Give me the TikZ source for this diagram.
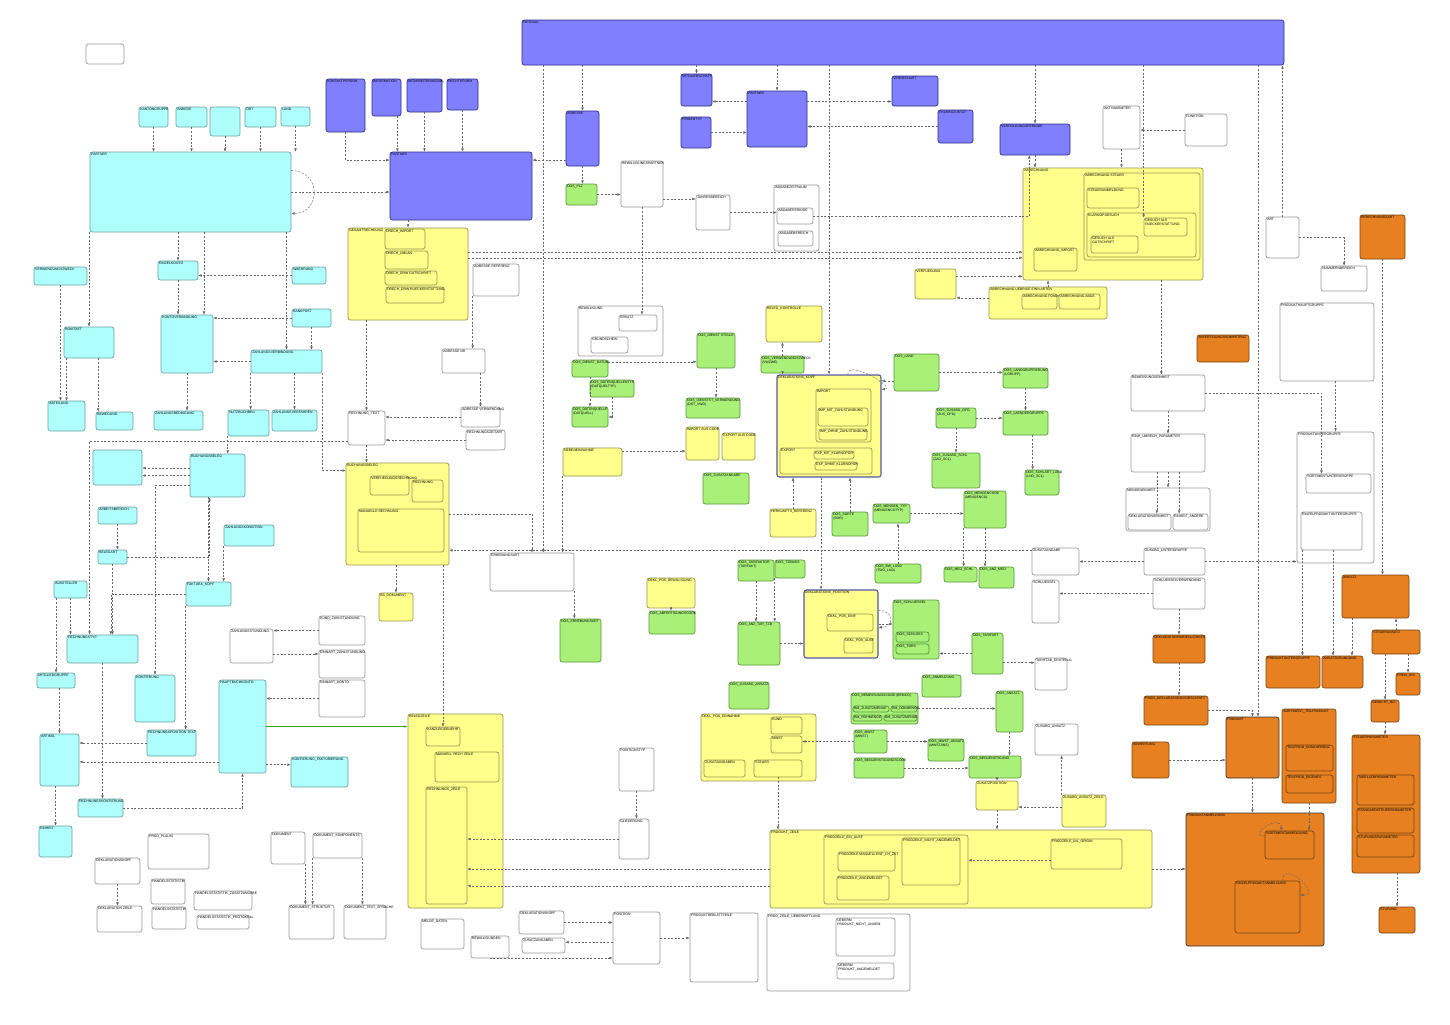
\documentclass[tikz,border=0pt]{standalone}
\usepackage{fontspec}
\setmainfont{Liberation Sans}
\usetikzlibrary{arrows.meta,fit}
\definecolor{blueF}{RGB}{128,128,255}\definecolor{blueD}{RGB}{45,45,140}
\definecolor{cyanF}{RGB}{175,255,255}\definecolor{cyanD}{RGB}{110,160,160}
\definecolor{yellowF}{RGB}{255,255,140}\definecolor{yellowD}{RGB}{150,150,80}
\definecolor{greenF}{RGB}{168,240,120}\definecolor{greenD}{RGB}{90,150,60}
\definecolor{orangeF}{RGB}{230,128,32}\definecolor{orangeD}{RGB}{120,70,20}
\definecolor{lineG}{RGB}{60,160,30}
\begin{document}
\begin{tikzpicture}[x=0.5pt,y=-0.5pt,
  ent/.style={rounded corners=1.2pt,line width=0.35pt,inner sep=0pt},
  bl/.style={ent,fill=blueF,draw=blueD},
  cy/.style={ent,fill=cyanF,draw=cyanD},
  yl/.style={ent,fill=yellowF,draw=yellowD},
  ylb/.style={ent,fill=yellowF,draw=blueD!80,line width=0.55pt},
  gr/.style={ent,fill=greenF,draw=greenD},
  og/.style={ent,fill=orangeF,draw=orangeD},
  wh/.style={ent,fill=white,draw=black!40},
  ttl/.style={anchor=north west,inner sep=0.6pt,align=left,font=\fontsize{1.7}{1.9}\selectfont},
  rel/.style={draw=black!60,line width=0.22pt,dash pattern=on 1pt off 0.8pt,-{Latex[length=1.6pt,width=1.3pt]}},
  relg/.style={draw=lineG,line width=0.35pt,-{Latex[length=1.6pt,width=1.3pt]}}]
\useasboundingbox (0,0) rectangle (1450,1024);
\fill[white] (0,0) rectangle (1450,1024);

\node[wh,fit={(86,44)(124,64)}](legend){};
\node[bl,fit={(522,20)(1284,65)},label={[ttl]north west:RIPOSAU}](riposau){};
\node[bl,fit={(326,79)(365,132)},label={[ttl]north west:KONTAKTPERSON}](kontaktperson){};
\node[bl,fit={(372,79)(401,116)},label={[ttl]north west:INFORMATION}](information){};
\node[bl,fit={(407,79)(442,112)},label={[ttl]north west:MITARBEITERANZAHL}](mitarbeiter){};
\node[bl,fit={(447,79)(478,110)},label={[ttl]north west:RECHTSFORM}](rechtsform){};
\node[bl,fit={(390,152)(532,220)},label={[ttl]north west:PARTNER}](partnerB){};
\node[bl,fit={(566,111)(599,166)},label={[ttl]north west:ADRESSE}](adresse){};
\node[bl,fit={(681,74)(712,106)},label={[ttl]north west:MITGLIEDSCHAFT}](mitglied){};
\node[bl,fit={(681,117)(711,148)},label={[ttl]north west:FIRMENTYP}](firmentyp){};
\node[bl,fit={(747,91)(807,147)},label={[ttl]north west:PARTNER}](partnerS){};
\node[bl,fit={(892,76)(938,106)},label={[ttl]north west:VERRECHART}](verrechart){};
\node[bl,fit={(938,110)(973,143)},label={[ttl]north west:FRANKOZUSTAT}](frachtzustand){};
\node[bl,fit={(1000,124)(1070,155)},label={[ttl]north west:VERFOLGUNGSPERIODE}](verfolgung){};

\node[cy,fit={(139,107)(168,127)},label={[ttl]north west:KANTONGRUPPE}](kantongruppe){};
\node[cy,fit={(176,107)(207,127)},label={[ttl]north west:ANREDE}](anrede){};
\node[cy,fit={(210,107)(240,136)}](plz){};
\node[cy,fit={(245,107)(276,127)},label={[ttl]north west:ORT}](ort){};
\node[cy,fit={(281,107)(310,126)},label={[ttl]north west:LAND}](land){};
\node[cy,fit={(90,152)(291,232)},label={[ttl]north west:PARTNER}](partnerC){};
\node[cy,fit={(34,267)(87,285)},label={[ttl]north west:VERWENDUNGSZWECK}](verwendungszweck){};
\node[cy,fit={(158,261)(198,280)},label={[ttl]north west:EINZELKONTO}](einzelkonto){};
\node[cy,fit={(292,267)(326,284)},label={[ttl]north west:WAEHRUNG}](waehrung){};
\node[cy,fit={(292,309)(331,327)},label={[ttl]north west:BANKPOST}](bankpost){};
\node[cy,fit={(161,315)(213,373)},label={[ttl]north west:KONTOVERBINDUNG}](kontoverb){};
\node[cy,fit={(64,327)(114,358)},label={[ttl]north west:BONITAET}](bonitaet){};
\node[cy,fit={(251,350)(322,373)},label={[ttl]north west:ZAHLUNGSVERBINDUNG}](zahlverb){};
\node[cy,fit={(48,401)(85,431)},label={[ttl]north west:ABTEILUNG}](abteilung){};
\node[cy,fit={(96,412)(133,430)},label={[ttl]north west:BEWEGUNG}](bewegung){};
\node[cy,fit={(154,411)(203,430)},label={[ttl]north west:ZAHLUNGSBEDINGUNG}](zahlbed){};
\node[cy,fit={(228,410)(269,436)},label={[ttl]north west:NUTZBUCHBEG}](nutzbuch){};
\node[cy,fit={(272,410)(317,431)},label={[ttl]north west:ZAHLUNGSVERFAHREN}](zahlverf){};
\node[cy,fit={(93,450)(142,485)}](cyanblank){};
\node[cy,fit={(190,454)(245,497)},label={[ttl]north west:BUCHUNGSBELEG}](buchbeleg){};
\node[cy,fit={(98,507)(137,524)},label={[ttl]north west:ARBEITSBEREICH}](arbeitsber){};
\node[cy,fit={(98,550)(127,564)},label={[ttl]north west:BELEGART}](belegart){};
\node[cy,fit={(224,525)(274,546)},label={[ttl]north west:ZAHLUNGSKONDITION}](zahlkond){};
\node[cy,fit={(54,581)(87,598)},label={[ttl]north west:AUSSTELLER}](aussteller){};
\node[cy,fit={(186,582)(231,606)},label={[ttl]north west:FAKTURA\_KOPF}](fakturakopf){};
\node[cy,fit={(67,635)(138,663)},label={[ttl]north west:RECHNUNGSTYP}](rechnungstyp){};
\node[cy,fit={(37,673)(75,688)},label={[ttl]north west:MITGLIEDGRUPPE}](mitgliedgr){};
\node[cy,fit={(135,675)(175,722)},label={[ttl]north west:KONTIERUNG}](kontierung){};
\node[cy,fit={(219,680)(266,773)},label={[ttl]north west:HAUPTBUCHKONTO}](hauptbuch){};
\node[cy,fit={(147,730)(196,756)},label={[ttl]north west:RECHNUNGSPOSITION TEXT}](rechpostext){};
\node[cy,fit={(40,734)(79,786)},label={[ttl]north west:ARTIKEL}](artikel){};
\node[cy,fit={(291,757)(348,787)},label={[ttl]north west:KONTIERUNG\_FAKTURIERUNG}](kontfakt){};
\node[cy,fit={(78,799)(123,817)},label={[ttl]north west:RECHNUNGSKONTIERUNG}](rechkont){};
\node[cy,fit={(39,826)(72,857)},label={[ttl]north west:EINHEIT}](einheit){};

\node[wh,fit={(230,629)(273,663)},label={[ttl]north west:ZAHLUNGSSTUNDUNG}](zahlstund){};
\node[wh,fit={(319,616)(365,645)},label={[ttl]north west:KUND\_ZAHLSTUNDUNG}](kundzahl){};
\node[wh,fit={(319,650)(365,678)},label={[ttl]north west:EINNART\_ZAHLSTUNDUNG}](einnzahl){};
\node[wh,fit={(319,680)(365,717)},label={[ttl]north west:EINNART\_KONTO}](einnkonto){};
\node[wh,fit={(348,411)(385,445)},label={[ttl]north west:RECHNUNG\_TEXT}](rechtext){};
\node[wh,fit={(442,349)(485,373)},label={[ttl]north west:ADRESSE NR}](adrnr){};
\node[wh,fit={(461,407)(500,427)},label={[ttl]north west:ADRESSE VERWENDUNG}](adrverw){};
\node[wh,fit={(466,430)(505,450)},label={[ttl]north west:RECHNUNGSZEITART}](rechzeit){};
\node[wh,fit={(473,264)(519,296)},label={[ttl]north west:ADRESSE REFERENZ}](adrref){};

\node[yl,fit={(348,228)(468,320)},label={[ttl]north west:GESAMTRECHNUNG}](gesamtrech){};
\node[yl,fit={(385,229)(425,249)},label={[ttl]north west:DRECH\_IMPORT}](drechimport){};
\node[yl,fit={(385,251)(428,269)},label={[ttl]north west:DRECH\_UMLAN}](drechumlan){};
\node[yl,fit={(385,271)(437,285)},label={[ttl]north west:DRECH\_DRW GUTSCHRIFT}](drechgut){};
\node[yl,fit={(386,287)(444,303)},label={[ttl]north west:DRECH\_DRW RUECKERSTATTUNG}](drechrueck){};
\node[yl,fit={(346,463)(449,565)},label={[ttl]north west:BUCHUNGSBELEG}](buchbelegY){};
\node[yl,fit={(370,476)(409,495)},label={[ttl]north west:VERFUEGUNGSRECHNUNG}](verfrech){};
\node[yl,fit={(412,480)(443,502)},label={[ttl]north west:RECHNUNG}](rechnung){};
\node[yl,fit={(358,509)(444,552)},label={[ttl]north west:MANUELLE RECHNUNG}](manrech){};
\node[yl,fit={(379,593)(413,621)},label={[ttl]north west:BS\_DOKUMENT}](bsdok){};
\node[yl,fit={(408,714)(503,908)},label={[ttl]north west:BELEGZEILE}](belegzeile){};
\node[yl,fit={(426,727)(460,746)},label={[ttl]north west:KANZLEIGEBUEHR}](kanzlei){};
\node[yl,fit={(435,752)(499,782)},label={[ttl]north west:MANUELL RECH ZEILE}](manrechz){};
\node[yl,fit={(426,787)(467,904)},label={[ttl]north west:RECHNUNGS\_ZEILE}](rechzeile){};
\node[yl,fit={(563,448)(622,476)},label={[ttl]north west:NEBENEINNAHME}](nebeneinn){};
\node[yl,fit={(686,427)(719,460)},label={[ttl]north west:IMPORT AUS CODE}](importaus){};
\node[yl,fit={(722,433)(755,460)},label={[ttl]north west:EXPORT AUS CODE}](exportaus){};
\node[yl,fit={(766,306)(822,342)},label={[ttl]north west:BELEG\_KONTROLLE}](belegkontr){};
\node[ylb,fit={(777,375)(881,477)},label={[ttl]north west:DEKLARATIONS\_KOPF}](deklkopf){};
\node[yl,fit={(816,389)(871,442)},label={[ttl]north west:IMPORT}](import){};
\node[yl,fit={(818,408)(868,426)},label={[ttl]north west:IMP\_MIT\_ZAHLSTUNDUNG}](impmit){};
\node[yl,fit={(819,429)(867,440)},label={[ttl]north west:IMP\_OHNE\_ZAHLSTUNDUNG}](impohne){};
\node[yl,fit={(780,448)(872,474)},label={[ttl]north west:EXPORT}](export){};
\node[yl,fit={(814,451)(854,459)},label={[ttl]north west:EXP\_MIT\_KLARNOPOR}](expmit){};
\node[yl,fit={(815,462)(857,470)},label={[ttl]north west:EXP\_OHNE\_KLARNOPOR}](expohne){};
\node[yl,fit={(770,509)(816,537)},label={[ttl]north west:HERKUNFTS\_REFERENZ}](herkunft){};
\node[ylb,fit={(804,590)(878,658)},label={[ttl]north west:DEKLARATIONS\_POSITION}](deklpos){};
\node[yl,fit={(827,614)(873,631)},label={[ttl]north west:DEKL\_POS\_EINF}](deklposeinf){};
\node[yl,fit={(844,638)(873,653)},label={[ttl]north west:DEKL\_POS\_AUSF}](deklposausf){};
\node[yl,fit={(647,578)(695,608)},label={[ttl]north west:DEKL\_POS\_BEWILLIGUNG}](deklposbew){};
\node[yl,fit={(701,714)(816,781)},label={[ttl]north west:DEKL\_POS\_EINNAHME}](deklposeinn){};
\node[yl,fit={(771,717)(802,734)},label={[ttl]north west:KUND}](kund){};
\node[yl,fit={(771,736)(802,753)},label={[ttl]north west:MWST}](mwst){};
\node[yl,fit={(704,760)(745,777)},label={[ttl]north west:ZUSATZANGABEN}](zusatzang){};
\node[yl,fit={(754,760)(802,777)},label={[ttl]north west:STEUER}](steuer){};
\node[yl,fit={(976,781)(1018,810)},label={[ttl]north west:ZUSATZPOSITION}](zusatzpos){};
\node[yl,fit={(1062,795)(1106,827)},label={[ttl]north west:ZUSABG\_ANSATZ\_ZEILE}](zusabgzeile){};
\node[yl,fit={(770,830)(1152,908)},label={[ttl]north west:PRODUKT\_ZEILE}](produktzeile){};
\node[yl,fit={(824,835)(968,904)},label={[ttl]north west:PRODZEILE\_EIN\_AUSF}](prodeinausf){};
\node[yl,fit={(902,838)(960,885)},label={[ttl]north west:PRODZEILE\_NICHT\_ANGEMELDET}](prodnicht){};
\node[yl,fit={(838,852)(895,871)},label={[ttl]north west:PRODZEILE MANUELL ENF\_CH\_ZST}](prodmanuell){};
\node[yl,fit={(837,876)(889,900)},label={[ttl]north west:PRODZEILE\_ANGEMELDET}](prodangem){};
\node[yl,fit={(1051,839)(1122,869)},label={[ttl]north west:PRODZEILE\_INL\_ORIGIN}](prodinl){};
\node[yl,fit={(1023,168)(1203,280)},label={[ttl]north west:ABRECHNUNG}](abrechnung){};
\node[yl,fit={(1084,173)(1200,260)},label={[ttl]north west:ABRECHNUNG STEUER}](abrsteuer){};
\node[yl,fit={(1087,188)(1139,208)},label={[ttl]north west:STEUERANMELDUNG}](steueranm){};
\node[yl,fit={(1087,213)(1196,257)},label={[ttl]north west:KLARNOPGESUCH}](klarnop){};
\node[yl,fit={(1144,218)(1187,236)},label={[ttl]north west:{GESUCH ALS\\RUECKERSTATTUNG}}](gesruck){};
\node[yl,fit={(1091,236)(1138,253)},label={[ttl]north west:{GESUCH ALS\\GUTSCHRIFT}}](gesgut){};
\node[yl,fit={(1034,248)(1077,271)},label={[ttl]north west:ABRECHNUNG\_IMPORT}](abrimport){};
\node[yl,fit={(915,269)(956,299)},label={[ttl]north west:VERFUEGUNG}](verfuegung){};
\node[yl,fit={(989,287)(1107,319)},label={[ttl]north west:ABRECHNUNG UEBRIGE EINN.ARTEN}](abruebrige){};
\node[yl,fit={(1022,294)(1057,309)},label={[ttl]north west:ABRECHNUNG FONDS}](abrfonds){};
\node[yl,fit={(1059,294)(1100,309)},label={[ttl]north west:ABRECHNUNG ABGE}](abrabge){};

\node[gr,fit={(566,184)(597,205)},label={[ttl]north west:DOS\_PLZ}](dosplz){};
\node[gr,fit={(697,333)(735,368)},label={[ttl]north west:DOS\_DIENST STELLE}](dosdienststelle){};
\node[gr,fit={(572,360)(608,377)},label={[ttl]north west:DOS\_DIENST\_DATUM}](dosdienstdatum){};
\node[gr,fit={(590,380)(634,397)},label={[ttl]north west:{DOS\_DATENQUELLENTYP\\(DATQUELTYP)}}](dosdqtyp){};
\node[gr,fit={(572,407)(608,427)},label={[ttl]north west:{DOS\_DATENQUELLE\\(DATQUELL)}}](dosdq){};
\node[gr,fit={(686,398)(740,418)},label={[ttl]north west:{DOS\_DIENSTST\_VERWENDUNG\\(DST\_VWD)}}](dosdstverw){};
\node[gr,fit={(761,356)(804,373)},label={[ttl]north west:{DOS\_VERWENDUNGSZWECK\\(VWZWE)}}](dosverwzw){};
\node[gr,fit={(894,354)(939,391)},label={[ttl]north west:DOS\_LAND}](dosland){};
\node[gr,fit={(1003,368)(1048,388)},label={[ttl]north west:{DOS\_LANDGRUPPIERUNG\\(LGRUPP)}}](doslgrupp){};
\node[gr,fit={(936,408)(976,428)},label={[ttl]north west:{DOS\_ZUSABG\_OFG\\(ZUS\_OFG)}}](doszusofg){};
\node[gr,fit={(1003,411)(1048,435)},label={[ttl]north west:DOS\_LAENDERGRUPPE}](doslaendergr){};
\node[gr,fit={(932,453)(980,488)},label={[ttl]north west:{DOS\_ZUSABG\_SCHL\\(ZAD\_SCL)}}](doszusschl){};
\node[gr,fit={(1025,470)(1059,495)},label={[ttl]north west:{DOS\_SCHLART\_LAND\\(LND\_SCL)}}](dosschlland){};
\node[gr,fit={(964,491)(1006,528)},label={[ttl]north west:{DOS\_MENGENCODE\\(MENGENCO)}}](dosmengencode){};
\node[gr,fit={(873,504)(910,523)},label={[ttl]north west:{DOS\_MENGEN\_TYP\\(MENGENCOTYP)}}](dosmengentyp){};
\node[gr,fit={(832,512)(868,536)},label={[ttl]north west:{DOS\_SORTE\\(SOR)}}](dossorte){};
\node[gr,fit={(703,473)(749,504)},label={[ttl]north west:DOS\_ZUSATZANGABE}](doszusatzang){};
\node[gr,fit={(738,560)(774,581)},label={[ttl]north west:{DOS\_TARIFAKTOR\\(TARFAKT)}}](dostarif){};
\node[gr,fit={(775,560)(805,578)},label={[ttl]north west:DOS\_TZBASIS}](dostzbasis){};
\node[gr,fit={(875,564)(921,583)},label={[ttl]north west:{DOS\_BW\_LAND\\(TWO\_LND)}}](dosbwland){};
\node[gr,fit={(944,567)(977,582)},label={[ttl]north west:DOS\_MEG\_SCHL}](dosmegschl){};
\node[gr,fit={(979,567)(1014,588)},label={[ttl]north west:DOS\_ANZ\_MEO}](dosanzmeo){};
\node[gr,fit={(738,622)(780,665)},label={[ttl]north west:DOS\_ANZ\_TAR\_TZB}](dosanztar){};
\node[gr,fit={(893,600)(939,659)},label={[ttl]north west:DOS\_SCHLUESSEL}](dosschl){};
\node[gr,fit={(896,632)(929,642)},label={[ttl]north west:DOS\_SCHLOSS}](dosschloss){};
\node[gr,fit={(896,644)(929,654)},label={[ttl]north west:DOS\_TORS}](dostors){};
\node[gr,fit={(972,633)(1003,674)},label={[ttl]north west:DOS\_TARIFART}](dostarifart){};
\node[gr,fit={(922,675)(961,697)},label={[ttl]north west:DOS\_ANMELDUNG}](dosanmeld){};
\node[gr,fit={(729,682)(769,709)},label={[ttl]north west:DOS\_ZUSABG\_ANSATZ}](doszusabgans){};
\node[gr,fit={(851,693)(918,724)},label={[ttl]north west:DOS\_BEMESSUNGSCODE (BEMCO)}](dosbemco){};
\node[gr,fit={(853,706)(889,712)},label={[ttl]north west:BM\_ZUSATZMENGE}](bmzusatz){};
\node[gr,fit={(891,706)(917,712)},label={[ttl]north west:BM\_DOKMENGE}](bmdok){};
\node[gr,fit={(853,715)(882,721)},label={[ttl]north west:BM\_ROHMENGE}](bmroh){};
\node[gr,fit={(884,715)(917,721)},label={[ttl]north west:BM\_ZUSATZMENGE}](bmzustwo){};
\node[gr,fit={(996,691)(1023,732)},label={[ttl]north west:DOS\_ANSATZ}](dosansatz){};
\node[gr,fit={(854,730)(887,753)},label={[ttl]north west:{DOS\_MWST\\(MWST)}}](dosmwst){};
\node[gr,fit={(928,739)(964,761)},label={[ttl]north west:{DOS\_MWST\_ANSATZ\\(MWSTANS)}}](dosmwstans){};
\node[gr,fit={(854,758)(904,778)},label={[ttl]north west:DOS\_BEGUENSTIGUNGSCODE}](dosbegcode){};
\node[gr,fit={(969,756)(1021,778)},label={[ttl]north west:DOS\_BEGUENSTIGUNG}](dosbeg){};
\node[gr,fit={(560,619)(601,662)},label={[ttl]north west:DOS\_ERHEBUNGSART}](doserhebart){};
\node[gr,fit={(649,611)(695,634)},label={[ttl]north west:DOS\_ABFERTIGUNGSCODE}](dosabfcode){};

\node[wh,fit={(621,161)(663,207)},label={[ttl]north west:BEWILLIGUNGSPARTNER}](bewpartner){};
\node[wh,fit={(696,195)(730,230)},label={[ttl]north west:JAHRESBEREICH}](jahresber){};
\node[wh,fit={(774,185)(819,251)},label={[ttl]north west:ABGABEZEITRAUM}](abgzeitraum){};
\node[wh,fit={(777,208)(813,224)},label={[ttl]north west:ABGABEPERIODE}](abgperiode){};
\node[wh,fit={(778,231)(813,246)},label={[ttl]north west:ABGABEBEREICH}](abgbereich){};
\node[wh,fit={(578,306)(663,356)},label={[ttl]north west:BEWILLIGUNG}](bewilligung){};
\node[wh,fit={(619,315)(657,331)},label={[ttl]north west:ERSATZ}](ersatz){};
\node[wh,fit={(591,337)(628,353)},label={[ttl]north west:GRUNDSCHEIN}](grundschein){};
\node[wh,fit={(490,553)(574,591)},label={[ttl]north west:ERHEBUNGSART}](erhebungsart){};
\node[wh,fit={(619,748)(654,791)},label={[ttl]north west:POSITIONSTYP}](positionstyp){};
\node[wh,fit={(619,819)(649,859)},label={[ttl]north west:GLIEDERUNG}](gliederung){};
\node[wh,fit={(1103,106)(1140,149)},label={[ttl]north west:AKTIVANBIETER}](aktivanb){};
\node[wh,fit={(1185,114)(1227,146)},label={[ttl]north west:FUNKTION}](funktion){};
\node[wh,fit={(1266,217)(1299,258)},label={[ttl]north west:ART}](art){};
\node[wh,fit={(1321,266)(1367,291)},label={[ttl]north west:NUMMERNBEREICH}](nummernber){};
\node[wh,fit={(1280,303)(1374,381)},label={[ttl]north west:PRODUKTHAUPTGRUPPE}](prodhaupt){};
\node[wh,fit={(1131,375)(1205,411)},label={[ttl]north west:BEMESSUNGSEINHEIT}](bemeinheit){};
\node[wh,fit={(1131,434)(1205,472)},label={[ttl]north west:EINH\_UMRECH\_PARAMETER}](einhumrech){};
\node[wh,fit={(1126,488)(1210,531)},label={[ttl]north west:MENGENEINHEIT}](mengeneinheit){};
\node[wh,fit={(1128,514)(1171,530)},label={[ttl]north west:DEKLARATIONSEINHEIT}](deklein){};
\node[wh,fit={(1173,514)(1208,530)},label={[ttl]north west:EINHEIT\_ANDERE}](einhandere){};
\node[wh,fit={(1297,432)(1374,563)},label={[ttl]north west:PRODUKTUNTERGRUPPE}](produntergr){};
\node[wh,fit={(1306,474)(1371,493)},label={[ttl]north west:SORTIMENTUNTERGRUPPE}](sortunter){};
\node[wh,fit={(1301,512)(1362,550)},label={[ttl]north west:EINZELPRODUKTUNTERGRUPPE}](einzelunter){};
\node[wh,fit={(1144,548)(1205,575)},label={[ttl]north west:ZUSABG\_UNTERGRUPPE}](zusabgunter){};
\node[wh,fit={(1153,578)(1205,609)},label={[ttl]north west:SCHLUESSELVERWENDUNG}](schlverw){};
\node[wh,fit={(1032,548)(1079,575)},label={[ttl]north west:ZUSATZANGABE}](zusatzangabe){};
\node[wh,fit={(1032,580)(1059,623)},label={[ttl]north west:SCHLUESSEL}](schluessel){};
\node[wh,fit={(1035,658)(1067,690)},label={[ttl]north west:TARIFTAB\_ERSTELLG}](tariftab){};
\node[wh,fit={(1035,724)(1078,755)},label={[ttl]north west:ZUSABG\_ANSATZ}](zusabgansatz){};

\node[og,fit={(1197,335)(1249,362)},label={[ttl]north west:ABFERTIGUNGSKOMPETENZ}](abfkomp){};
\node[og,fit={(1360,215)(1405,259)},label={[ttl]north west:BERECHNUNGSART}](berechart){};
\node[og,fit={(1153,635)(1205,663)},label={[ttl]north west:DEKLARATIONSMOEGLICHKEIT}](deklmoegl){};
\node[og,fit={(1342,575)(1409,618)},label={[ttl]north west:ANSATZ}](ansatz){};
\node[og,fit={(1372,630)(1420,654)},label={[ttl]north west:STEUERANSATZ}](steueransatz){};
\node[og,fit={(1266,656)(1320,688)},label={[ttl]north west:PRODUKTUNTERGRUPPE}](produktgr){};
\node[og,fit={(1322,656)(1363,688)},label={[ttl]north west:ANSATZGRUNDUNG}](ansatzgr){};
\node[og,fit={(1396,673)(1420,695)},label={[ttl]north west:PREIS\_BIS}](preisbis){};
\node[og,fit={(1371,700)(1399,722)},label={[ttl]north west:GEWICHT\_BIS}](gewichtbis){};
\node[og,fit={(1144,696)(1208,725)},label={[ttl]north west:PROD\_DEKLARATIONSVORSCHRIFT}](proddeklvor){};
\node[og,fit={(1226,717)(1279,778)},draw=black!80,label={[ttl]north west:PRODUKT}](produkt){};
\node[og,fit={(1282,709)(1336,803)},label={[ttl]north west:SORTIMENT\_TEILPRODUKT}](sortteil){};
\node[og,fit={(1286,745)(1333,771)},label={[ttl]north west:TEILPROD\_KONKURRENZ}](teilkonk){};
\node[og,fit={(1286,775)(1333,793)},label={[ttl]north west:TEILPROD\_EIGENES}](teileig){};
\node[og,fit={(1132,742)(1169,778)},label={[ttl]north west:BEWERTUNG}](bewertung){};
\node[og,fit={(1352,735)(1420,873)},label={[ttl]north west:STEUERPARAMETER}](steuerparam){};
\node[og,fit={(1357,775)(1414,805)},label={[ttl]north west:TABELLENPARAMETER}](tabparam){};
\node[og,fit={(1357,808)(1414,833)},label={[ttl]north west:STANDARDSTEUERPARAMETER}](stdparam){};
\node[og,fit={(1357,835)(1414,857)},label={[ttl]north west:STUFUNGSPARAMETER}](stufparam){};
\node[og,fit={(1186,813)(1324,946)},draw=black!80,label={[ttl]north west:PRODUKTANMELDUNG}](prodanm){};
\node[og,fit={(1265,831)(1314,859)},label={[ttl]north west:SORTIMENTANMELDUNG}](sortanm){};
\node[og,fit={(1235,881)(1300,933)},label={[ttl]north west:EINZELPRODUKTANMELDUNG}](einzelanm){};
\node[og,fit={(1379,907)(1415,933)},label={[ttl]north west:STUFUNG}](stufung){};

\node[wh,fit={(148,834)(209,869)},label={[ttl]north west:PROD\_PLAUSI}](prodplausi){};
\node[wh,fit={(95,858)(140,884)},label={[ttl]north west:DEKLARATIONSKOPF}](deklkopftwo){};
\node[wh,fit={(97,906)(142,932)},label={[ttl]north west:DEKLARATION ZEILE}](deklzeile){};
\node[wh,fit={(151,879)(185,904)},label={[ttl]north west:HANDELSSTATISTIK}](hstat){};
\node[wh,fit={(152,907)(186,929)},label={[ttl]north west:HANDELSSTATISTIK}](hstattwo){};
\node[wh,fit={(194,891)(252,910)},label={[ttl]north west:HANDELSSTATISTIK\_ZUSATZANGABE}](hstatzus){};
\node[wh,fit={(197,915)(249,929)},label={[ttl]north west:HANDELSSTATISTIK\_PROTOKOLL}](hstatprot){};
\node[wh,fit={(271,832)(305,864)},label={[ttl]north west:DOKUMENT}](dokument){};
\node[wh,fit={(313,833)(362,858)},label={[ttl]north west:DOKUMENT\_KOMPONENTE}](dokkomp){};
\node[wh,fit={(289,905)(334,939)},label={[ttl]north west:DOKUMENT\_STRUKTUR}](dokstruk){};
\node[wh,fit={(344,905)(386,939)},label={[ttl]north west:DOKUMENT\_TEXT\_SPRACHE}](doktext){};
\node[wh,fit={(421,919)(464,949)},label={[ttl]north west:MELDE\_DATEN}](meldedaten){};
\node[wh,fit={(471,936)(509,958)},label={[ttl]north west:BEWILLIGUNGEN}](bewilligungen){};
\node[wh,fit={(519,911)(564,934)},label={[ttl]north west:DEKLARATIONSKOPF}](deklkopfthree){};
\node[wh,fit={(522,938)(565,953)},label={[ttl]north west:ZUSATZANGABEN}](zusatzangaben){};
\node[wh,fit={(613,912)(660,964)},label={[ttl]north west:POSITION}](position){};
\node[wh,fit={(690,913)(758,982)},label={[ttl]north west:PRODUKTBEBLATTZEILE}](prodblatt){};
\node[wh,fit={(767,914)(910,991)},label={[ttl]north west:PROD\_ZEILE\_UEBERMITTLUNG}](produeberm){};
\node[wh,fit={(836,918)(895,956)},label={[ttl]north west:{UEBERM\\PRODUKT\_NICHT\_ANGEM}}](uebnicht){};
\node[wh,fit={(837,963)(894,979)},label={[ttl]north west:{UEBERM\\PRODUKT\_ANGEMELDET}}](uebangem){};

\draw[rel] (kantongruppe.south) -- (kantongruppe.south |- partnerC.north);
\draw[rel] (anrede.south) -- (anrede.south |- partnerC.north);
\draw[rel] (plz.south) -- (plz.south |- partnerC.north);
\draw[rel] (ort.south) -- (ort.south |- partnerC.north);
\draw[rel] (land.south) -- (land.south |- partnerC.north);
\draw[rel] (partnerC.east) -- (partnerC.east -| partnerB.west);
\draw[rel] (partnerC.12) .. controls +(30,0) and +(30,0) .. (partnerC.-12);
\draw[rel] (partnerC.south -| bonitaet.north) -- (bonitaet.north);
\draw[rel] (partnerC.south -| einzelkonto.north) -- (einzelkonto.north);
\draw[rel] (partnerC.south -| kontoverb.60) -- (kontoverb.60);
\draw[rel] (einzelkonto.south) -- (einzelkonto.south |- kontoverb.north);
\draw[rel] (verwendungszweck.south) -- (verwendungszweck.south |- abteilung.north);
\draw[rel] (bonitaet.south -| abteilung.north) -- (abteilung.north);
\draw[rel] (bonitaet.-60) -- (bonitaet.-60 |- bewegung.north);
\draw[rel] (waehrung.west) -- (waehrung.west -| einzelkonto.east);
\draw[rel] (bankpost.west) -- (bankpost.west -| kontoverb.east);
\draw[rel] (bankpost.south) -- (bankpost.south |- zahlverb.north);
\draw[rel] (zahlverb.west) -- (zahlverb.west -| kontoverb.east);
\draw[rel] (partnerC.south -| zahlverb.north) -- (zahlverb.north);
\draw[rel] (kontoverb.south) -- (kontoverb.south |- zahlbed.north);
\draw[rel] (zahlverb.south west) -- (zahlverb.south west |- nutzbuch.north);
\draw[rel] (zahlverb.south -| zahlverf.north) -- (zahlverf.north);
\draw[rel] (zahlverb.south east) |- (buchbelegY.140);
\draw[rel] (nutzbuch.south west) -- (nutzbuch.south west |- buchbeleg.north);
\draw[rel] (rechtext.215) -| (rechnungstyp.132);
\draw[rel] (buchbeleg.west) -- (buchbeleg.west -| cyanblank.east);
\draw[rel] (buchbeleg.165) -- (buchbeleg.165 -| cyanblank.east);
\draw[rel] (arbeitsber.south) -- (arbeitsber.south |- belegart.north);
\draw[rel] (belegart.east) -| (buchbeleg.250);
\draw[rel] (belegart.south) -- (belegart.south |- rechnungstyp.north);
\draw[rel] (buchbeleg.south -| fakturakopf.north) -- (fakturakopf.north);
\draw[rel] (zahlkond.south west) -- (zahlkond.south west |- fakturakopf.north);
\draw[rel] (fakturakopf.west) -| (rechnungstyp.60);
\draw[rel] (aussteller.south -| mitgliedgr.north) -- (mitgliedgr.north);
\draw[rel] (aussteller.south) -- (aussteller.south |- rechnungstyp.north);
\draw[rel] (buchbeleg.200) -| (kontierung.north);
\draw[rel] (fakturakopf.south west) -- (fakturakopf.south west |- rechpostext.north);
\draw[rel] (rechpostext.west) -- (rechpostext.west -| artikel.east);
\draw[rel] (hauptbuch.236) -- (hauptbuch.236 -| artikel.east);
\draw[rel] (hauptbuch.-58) -- (hauptbuch.-58 -| kontfakt.west);
\draw[rel] (einnkonto.west) -- (einnkonto.west -| hauptbuch.east);
\draw[relg] (hauptbuch.east) -- (hauptbuch.east -| belegzeile.west);
\draw[rel] (rechnungstyp.south) -- (rechnungstyp.south |- rechkont.north);
\draw[rel] (mitgliedgr.south -| artikel.north) -- (artikel.north);
\draw[rel] (artikel.south -| einheit.north) -- (einheit.north);
\draw[rel] (rechkont.east) -| (hauptbuch.south);
\draw[rel] (kundzahl.west) -- (kundzahl.west -| zahlstund.east);
\draw[rel] (zahlstund.-20) -- (zahlstund.-20 -| einnzahl.west);

\draw[rel] (kontaktperson.south) |- (partnerB.160);
\draw[rel] (information.-60) -- (information.-60 |- partnerB.north);
\draw[rel] (mitarbeiter.south) -- (mitarbeiter.south |- partnerB.north);
\draw[rel] (rechtsform.south) -- (rechtsform.south |- partnerB.north);
\draw[rel] (partnerB.south -| gesamtrech.north) -- (gesamtrech.north);
\draw[rel] (adresse.232) -- (adresse.232 -| partnerB.east);
\draw[rel] (adresse.south) -- (adresse.south |- dosplz.north);
\draw[rel] (dosplz.east) -- (dosplz.east -| bewpartner.west);
\draw[rel] (partnerS.150) -- (partnerS.150 -| mitglied.east);
\draw[rel] (firmentyp.east) -- (firmentyp.east -| partnerS.west);
\draw[rel] (partnerS.30) -- (partnerS.30 -| verrechart.west);
\draw[rel] (frachtzustand.west) -- (frachtzustand.west -| partnerS.east);
\draw[rel] (riposau.south -| partnerS.north) -- (partnerS.north);
\draw[rel] (riposau.south -| verfolgung.north) -- (verfolgung.north);
\draw[rel] (riposau.south -| adresse.north) -- (adresse.north);
\draw[rel] (riposau.south -| mitglied.north) -- (mitglied.north);
\draw[rel] (riposau.south -| gesruck.north west) -- (gesruck.north west);
\draw[rel] (art.north) -- (art.north |- riposau.south);
\draw[rel] (riposau.south -| deklkopf.north) -- (deklkopf.north);
\draw[rel] (riposau.south -| erhebungsart.60) -- (erhebungsart.60);
\draw[rel] (riposau.south -| produkt.80) -- (produkt.80);
\draw[rel] (abrechnung.south -| bemeinheit.110) -- (bemeinheit.110);
\draw[rel] (gesamtrech.20) -- (gesamtrech.20 -| abrechnung.west);
\draw[rel] (gesamtrech.15) -- (gesamtrech.15 -| abrechnung.west);
\draw[rel] (abgperiode.east) -| (verfolgung.250);
\draw[rel] (bewpartner.-35) -- (bewpartner.-35 -| jahresber.west);
\draw[rel] (jahresber.east) -- (jahresber.east -| abgperiode.west);
\draw[rel] (bewpartner.south) -- (bewpartner.south |- ersatz.north);
\draw[rel] (funktion.west) -- (funktion.west -| aktivanb.east);
\draw[rel] (aktivanb.south) -- (aktivanb.south |- abrechnung.north);
\draw[rel] (art.east) -| (nummernber.north);
\draw[rel] (berechart.south) -- (berechart.south |- ansatz.north);
\draw[rel] (bemeinheit.south) -- (bemeinheit.south |- einhumrech.north);
\draw[rel] (einhumrech.south) -- (einhumrech.south |- mengeneinheit.north);
\draw[rel] (einhumrech.-120) -- (einhumrech.-120 |- deklein.north);
\draw[rel] (einhumrech.-60) -- (einhumrech.-60 |- einhandere.north);
\draw[rel] (bemeinheit.east) -| (sortunter.150);
\draw[rel] (prodhaupt.south -| produntergr.north) -- (produntergr.north);
\draw[rel] (einzelunter.south -| produktgr.60) -- (produktgr.60);
\draw[rel] (einzelunter.south -| ansatzgr.120) -- (ansatzgr.120);
\draw[rel] (zusabgunter.west) -- (zusabgunter.west -| zusatzangabe.east);
\draw[rel] (schlverw.west) -- (schlverw.west -| schluessel.east);
\draw[rel] (schlverw.south) -- (schlverw.south |- deklmoegl.north);
\draw[rel] (zusabgunter.east) -- (zusabgunter.east -| produntergr.west);
\draw[rel] (steueransatz.north) -- (steueransatz.north |- ansatz.south);
\draw[rel] (ansatz.south -| ansatzgr.60) -- (ansatzgr.60);
\draw[rel] (steueransatz.south -| preisbis.north) -- (preisbis.north);
\draw[rel] (steueransatz.south -| gewichtbis.north) -- (gewichtbis.north);
\draw[rel] (gewichtbis.south) -- (gewichtbis.south |- steuerparam.north);
\draw[rel] (steuerparam.south -| stufung.north) -- (stufung.north);
\draw[rel] (proddeklvor.east) -| (produkt.north);
\draw[rel] (bewertung.east) -- (bewertung.east -| produkt.west);
\draw[rel] (produkt.south) -- (produkt.south |- prodanm.north);
\draw[rel] (sortteil.south) -- (sortteil.south |- sortanm.north);
\draw[rel] (deklmoegl.south) -- (deklmoegl.south |- proddeklvor.north);
\draw[rel] (produktzeile.east) -- (produktzeile.east -| prodanm.west);
\draw[rel] (sortanm.160) .. controls +(-18,0) and +(0,-18) .. (sortanm.120);
\draw[rel] (einzelanm.60) .. controls +(0,-22) and +(22,0) .. (einzelanm.20);
\draw[rel] (deklkopf.70) .. controls +(0,-16) and +(16,0) .. (deklkopf.35);
\draw[rel] (deklpos.20) .. controls +(16,0) and +(16,0) .. (deklpos.-5);

\draw[rel] (dosland.east) -- (dosland.east -| doslgrupp.west);
\draw[rel] (doslgrupp.south) -- (doslgrupp.south |- doslaendergr.north);
\draw[rel] (doszusofg.east) -- (doszusofg.east -| doslaendergr.west);
\draw[rel] (doszusofg.south) -- (doszusofg.south |- doszusschl.north);
\draw[rel] (doslaendergr.-60) -- (doslaendergr.-60 |- dosschlland.north);
\draw[rel] (dosmengentyp.east) -- (dosmengentyp.east -| dosmengencode.west);
\draw[rel] (dosmengencode.south) -- (dosmengencode.south |- dosanzmeo.north);
\draw[rel] (dosmengencode.south west) -- (dosmengencode.south west |- dosmegschl.north);
\draw[rel] (dosland.200) -- (dosland.200 -| deklkopf.east);
\draw[rel] (dosverwzw.south) -- (dosverwzw.south |- deklkopf.north);
\draw[rel] (herkunft.north) -- (herkunft.north |- deklkopf.south);
\draw[rel] (dossorte.north) -- (dossorte.north |- deklkopf.south);
\draw[rel] (deklkopf.south -| deklpos.120) -- (deklpos.120);
\draw[rel] (dostarif.south) -- (dostarif.south |- dosanztar.north);
\draw[rel] (dostzbasis.south west) -- (dostzbasis.south west |- dosanztar.north);
\draw[rel] (dosanztar.east) -- (dosanztar.east -| deklpos.west);
\draw[rel] (deklpos.east) -- (deklpos.east -| dosschl.west);
\draw[rel] (dostarifart.west) -- (dostarifart.west -| dosschl.east);
\draw[rel] (dostarifart.-30) -- (dostarifart.-30 -| tariftab.west);
\draw[rel] (dosbwland.north) -- (dosbwland.north |- dosmengentyp.south);
\draw[rel] (dosmwst.west) -- (dosmwst.west -| mwst.east);
\draw[rel] (dosmwst.east) -- (dosmwst.east -| dosmwstans.west);
\draw[rel] (dosbegcode.east) -- (dosbegcode.east -| dosbeg.west);
\draw[rel] (dosansatz.south) -- (dosansatz.south |- dosbeg.north);
\draw[rel] (dosbeg.south -| zusatzpos.north) -- (zusatzpos.north);
\draw[rel] (zusabgzeile.170) -- (zusabgzeile.170 -| zusatzpos.east);
\draw[rel] (zusabgzeile.north west) -- (zusabgzeile.north west |- zusabgansatz.south);
\draw[rel] (zusatzpos.south) -- (zusatzpos.south |- produktzeile.north);
\draw[rel] (steuer.south) -- (steuer.south |- produktzeile.north);
\draw[rel] (dosbemco.east) -- (dosbemco.east -| dosansatz.west);
\draw[rel] (positionstyp.south) -- (positionstyp.south |- gliederung.north);
\draw[rel] (produktzeile.west) -- (produktzeile.west -| rechzeile.east);
\draw[rel] (produktzeile.185) -- (produktzeile.185 -| rechzeile.east);
\draw[rel] (gliederung.west) -- (gliederung.west -| rechzeile.east);
\draw[rel] (buchbelegY.south -| kanzlei.north) -- (kanzlei.north);
\draw[rel] (buchbelegY.south -| bsdok.north) -- (bsdok.north);
\draw[rel] (rechtext.south) -- (rechtext.south |- buchbelegY.north);
\draw[rel] (adrverw.west) -- (adrverw.west -| rechtext.east);
\draw[rel] (rechzeit.west) -- (rechzeit.west -| rechtext.east);
\draw[rel] (adrnr.south -| adrverw.north) -- (adrverw.north);
\draw[rel] (adrref.south west) -- (adrref.south west |- adrnr.north);
\draw[rel] (gesamtrech.south -| rechtext.north) -- (rechtext.north);
\draw[rel] (buchbelegY.east) -| (erhebungsart.north);
\draw[rel] (erhebungsart.south east) -- (erhebungsart.south east |- doserhebart.north);
\draw[rel] (nebeneinn.south west) -- (nebeneinn.south west |- erhebungsart.north);
\draw[rel] (deklposbew.south) -- (deklposbew.south |- dosabfcode.north);
\draw[rel] (dosdienstdatum.south) -- (dosdienstdatum.south |- dosdq.north);
\draw[rel] (dosdqtyp.south) |- (dosdq.east);
\draw[rel] (dosdienststelle.south) -- (dosdienststelle.south |- dosdstverw.north);
\draw[rel] (dosdienstdatum.20) -- (dosdienstdatum.20 -| dosdienststelle.west);
\draw[rel] (dosverwzw.north) -- (dosverwzw.north |- belegkontr.south);
\draw[rel] (nebeneinn.20) -- (nebeneinn.20 -| importaus.west);
\draw[rel] (abruebrige.175) -- (abruebrige.175 -| verfuegung.east);
\draw[rel] (verfuegung.20) -- (verfuegung.20 -| abrechnung.west);
\draw[rel] (abruebrige.north) -- (abruebrige.north |- abrechnung.south);
\draw[rel] (verfolgung.south) -- (verfolgung.south |- abrechnung.north);
\draw[rel] (zusatzangabe.155) -- (zusatzangabe.155 -| buchbelegY.east);
\draw[rel] (prodinl.190) -- (prodinl.190 -| prodeinausf.east);
\draw[rel] (dokument.south east) -- (dokument.south east |- dokstruk.north);
\draw[rel] (dokkomp.south west) -- (dokkomp.south west |- dokstruk.north);
\draw[rel] (dokkomp.south east) -- (dokkomp.south east |- doktext.north);
\draw[rel] (deklkopftwo.south) -- (deklkopftwo.south |- deklzeile.north);
\draw[rel] (deklkopfthree.east) -- (deklkopfthree.east -| position.west);
\draw[rel] (position.190) -- (position.190 -| zusatzangaben.east);
\draw[rel] (bewilligungen.south) |- (position.220);
\draw[rel] (position.east) -- (position.east -| prodblatt.west);
\end{tikzpicture}
\end{document}
